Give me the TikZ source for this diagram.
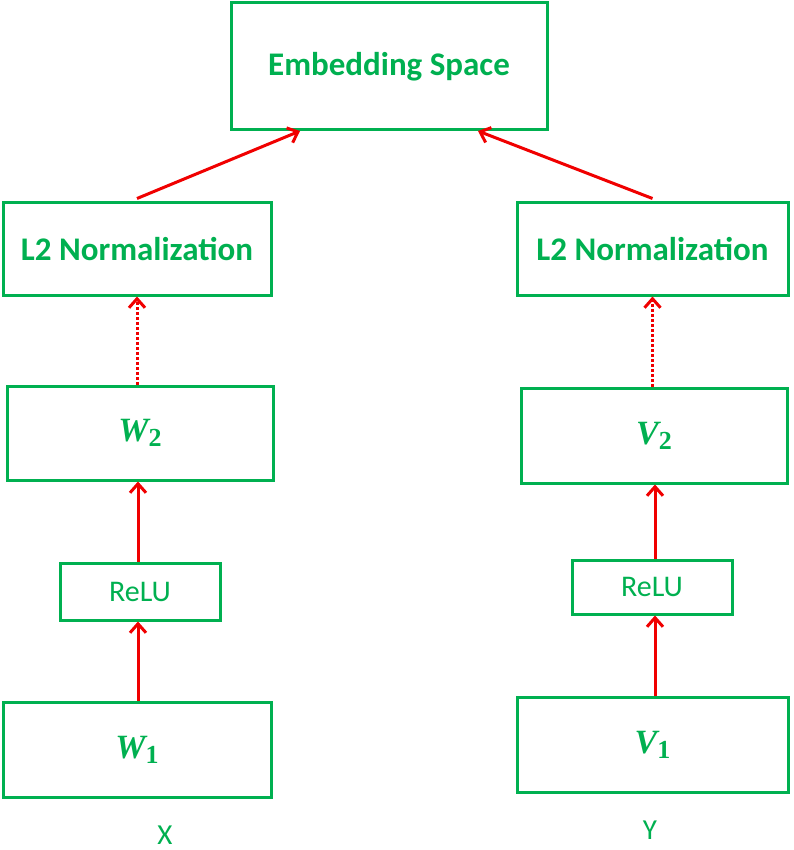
\documentclass[tikz,border=0pt]{standalone}
\usepackage{fontspec}
\setmainfont{Carlito}
\newfontfamily\mathish{Liberation Serif}
\usetikzlibrary{arrows.meta}
\definecolor{gr}{RGB}{0,176,80}
\definecolor{rd}{RGB}{240,0,0}
\tikzset{
  box/.style={draw=gr,line width=3pt,text=gr,inner sep=0pt,font=\fontsize{33}{38}\selectfont\bfseries},
  arr/.style={draw=rd,line width=3pt,-{Straight Barb[length=9pt,width=16pt]}},
  lbl/.style={text=gr,font=\fontsize{29}{34}\selectfont}
}
\newcommand{\mv}[2]{{\mathish\bfseries\itshape\fontsize{34}{38}\selectfont #1}\raisebox{-0.3ex}{\mathish\bfseries\fontsize{26}{30}\selectfont #2}}
\begin{document}
\begin{tikzpicture}[x=1pt,y=-1pt]
\useasboundingbox (0,0) rectangle (793,850);
\node[box,minimum width=316pt,minimum height=127pt] (emb) at (389,66.5) {Embedding Space};
\node[box,minimum width=268pt,minimum height=92pt] (l2l) at (137,249) {L2 Normalization};
\node[box,minimum width=271pt,minimum height=92pt] (l2r) at (652.5,249) {L2 Normalization};
\node[box,minimum width=266pt,minimum height=94pt] (w2) at (140,433) {\mv{W}{2}};
\node[box,minimum width=266pt,minimum height=95pt] (v2) at (654,435.5) {\mv{V}{2}};
\node[box,font=\fontsize{30}{34}\selectfont,minimum width=160pt,minimum height=57pt] (rl) at (140,591.5) {ReLU};
\node[box,font=\fontsize{30}{34}\selectfont,minimum width=160pt,minimum height=54pt] (rr) at (652,587) {ReLU};
\node[box,minimum width=268pt,minimum height=95pt] (w1) at (137,749.5) {\mv{W}{1}};
\node[box,minimum width=271pt,minimum height=95pt] (v1) at (652.5,744.5) {\mv{V}{1}};
\node[lbl] (x) at (165,835) {X};
\node[lbl] (y) at (650,830) {Y};
\coordinate (ea) at (300,131);
\coordinate (eb) at (478,131);
\draw[arr] (l2l.north) ++(0,-3) coordinate (la) (la) -- (ea);
\draw[arr] (l2r.north) ++(0,-3) coordinate (lb) (lb) -- (eb);
\draw[arr,dotted] (w2.north -| l2l.south) -- (l2l.south);
\draw[arr,dotted] (v2.north -| l2r.south) -- (l2r.south);
\draw[arr] (rl.north -| 138,0) -- (w2.south -| 138,0);
\draw[arr] (w1.north -| 138,0) -- (rl.south -| 138,0);
\draw[arr] (rr.north -| 655,0) -- (v2.south -| 655,0);
\draw[arr] (v1.north -| 655,0) -- (rr.south -| 655,0);
\end{tikzpicture}
\end{document}
